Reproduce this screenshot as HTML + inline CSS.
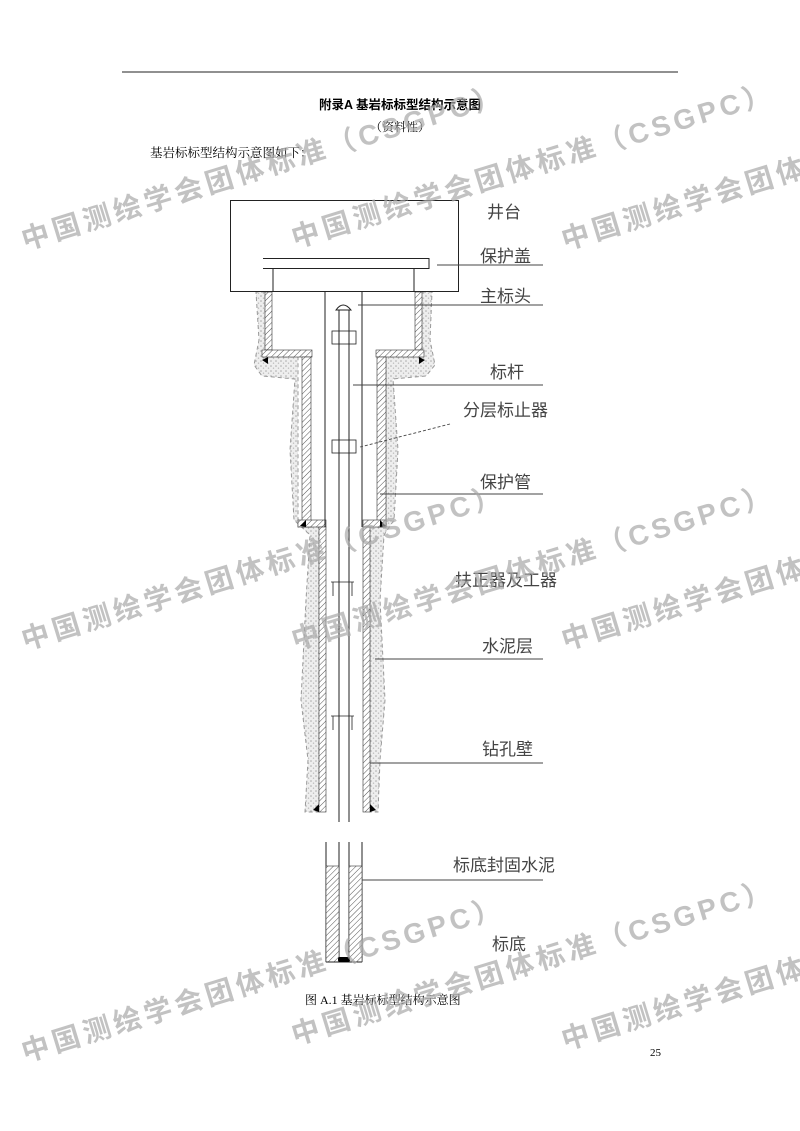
<!DOCTYPE html>
<html><head><meta charset="utf-8"><style>
html,body{margin:0;padding:0;background:#fff;}
svg{display:block;}
</style></head><body>
<svg width="800" height="1131" viewBox="0 0 800 1131" xmlns="http://www.w3.org/2000/svg" font-family="'Liberation Serif','Noto Serif CJK SC',serif">
<defs>
<pattern id="h" width="4" height="4" patternUnits="userSpaceOnUse" patternTransform="rotate(45)">
<rect width="4" height="4" fill="#fff"/><line x1="0" y1="0" x2="0" y2="4" stroke="#555" stroke-width="1"/></pattern>
<pattern id="d" width="5" height="5" patternUnits="userSpaceOnUse">
<rect width="5" height="5" fill="#eee"/><circle cx="1" cy="1" r="0.8" fill="#aaa"/><circle cx="3.5" cy="3.2" r="0.7" fill="#bbb"/></pattern>
</defs>
<line x1="122" y1="72" x2="678" y2="72" stroke="#222" stroke-width="1"/>
<text x="400" y="109" font-size="12.5" font-weight="bold" text-anchor="middle" font-family="'Liberation Sans','Noto Sans CJK SC',sans-serif">附录A  基岩标标型结构示意图</text>
<text x="400" y="131" font-size="12" text-anchor="middle">（资料性）</text>
<text x="150" y="157" font-size="12.5">基岩标标型结构示意图如下：</text>

<!-- cement (dotted) regions -->
<path d="M265,292 L256,292 L259,340 L254,365 L262,376 L295,379 L290,450 L294,520 L310,535 L306,600 L301,700 L308,760 L305,812 L319,812 L319,527 L298,527 L298,357 L262,357 L265,350 Z" fill="url(#d)" stroke="#999" stroke-dasharray="4,3"/>
<path d="M422,292 L432,292 L430,340 L435,365 L426,376 L393,379 L398,450 L394,520 L384,535 L380,600 L385,700 L380,760 L378,812 L370,812 L370,527 L386,527 L386,357 L424,357 L422,350 Z" fill="url(#d)" stroke="#999" stroke-dasharray="4,3"/>

<!-- well platform -->
<rect x="230.5" y="200.5" width="228" height="91" fill="#fff" stroke="#222"/>
<path d="M263,258.5 H429 V268.5 H263" fill="none" stroke="#222"/>
<line x1="273" y1="268" x2="273" y2="292" stroke="#222"/>
<line x1="414" y1="268" x2="414" y2="292" stroke="#222"/>

<!-- pipe walls -->
<rect x="265" y="292" width="7" height="58" fill="url(#h)" stroke="#333" stroke-width="0.6"/>
<rect x="415" y="292" width="7" height="58" fill="url(#h)" stroke="#333" stroke-width="0.6"/>
<rect x="262" y="350" width="50" height="7" fill="url(#h)" stroke="#333" stroke-width="0.6"/>
<rect x="376" y="350" width="48" height="7" fill="url(#h)" stroke="#333" stroke-width="0.6"/>
<rect x="302" y="357" width="9" height="170" fill="url(#h)" stroke="#333" stroke-width="0.6"/>
<rect x="377" y="357" width="9" height="170" fill="url(#h)" stroke="#333" stroke-width="0.6"/>
<rect x="298" y="520" width="28" height="7" fill="url(#h)" stroke="#333" stroke-width="0.6"/>
<rect x="363" y="520" width="23" height="7" fill="url(#h)" stroke="#333" stroke-width="0.6"/>
<rect x="319" y="527" width="7" height="285" fill="url(#h)" stroke="#333" stroke-width="0.6"/>
<rect x="363" y="527" width="7" height="285" fill="url(#h)" stroke="#333" stroke-width="0.6"/>
<polygon points="262,360 268,357 268,364" fill="#000"/>
<polygon points="425,360 419,357 419,364" fill="#000"/>
<polygon points="313,810 319,804 319,812" fill="#000"/>
<polygon points="376,810 370,804 370,812" fill="#000"/>
<polygon points="300,526 306,520 306,527" fill="#000"/>
<polygon points="386,526 380,520 380,527" fill="#000"/>

<!-- inner rods -->
<g stroke="#222" stroke-width="1">
<line x1="325" y1="292" x2="325" y2="527"/>
<line x1="362" y1="292" x2="362" y2="527"/>
<line x1="339" y1="310" x2="339" y2="822"/>
<line x1="349" y1="310" x2="349" y2="822"/>
</g>
<path d="M336,310 Q343,300 351,310 Z" fill="#fff" stroke="#222"/>
<g fill="none" stroke="#222" stroke-width="0.8">
<rect x="332" y="331" width="24" height="13"/>
<rect x="332" y="440" width="24" height="13"/>
<path d="M331,582 H354 M333,582 v14 M352,582 v14"/>
<path d="M331,716 H354 M333,716 v14 M352,716 v14"/>
</g>

<!-- bottom segment -->
<g stroke="#222" stroke-width="1">
<line x1="326" y1="842" x2="326" y2="962"/>
<line x1="362" y1="842" x2="362" y2="962"/>
<line x1="339" y1="842" x2="339" y2="960"/>
<line x1="349" y1="842" x2="349" y2="960"/>
</g>
<rect x="326" y="866" width="13" height="96" fill="url(#h)" stroke="#333" stroke-width="0.6"/>
<rect x="349" y="866" width="13" height="96" fill="url(#h)" stroke="#333" stroke-width="0.6"/>
<line x1="326" y1="962" x2="362" y2="962" stroke="#222"/>
<rect x="338" y="957" width="12" height="5" rx="2" fill="#000"/>

<!-- leaders -->
<g stroke="#444" stroke-width="0.9">
<line x1="437" y1="265" x2="543" y2="265"/>
<line x1="358" y1="305" x2="543" y2="305"/>
<line x1="353" y1="385" x2="543" y2="385"/>
<line x1="360" y1="447" x2="450" y2="424" stroke-dasharray="3,2"/>
<line x1="380" y1="494" x2="543" y2="494"/>
<line x1="375" y1="659" x2="543" y2="659"/>
<line x1="370" y1="763" x2="543" y2="763"/>
<line x1="362" y1="880" x2="543" y2="880"/>
</g>
<g font-size="17" fill="#444" font-family="'Liberation Sans','Noto Sans CJK SC',sans-serif">
<text x="487" y="218">井台</text>
<text x="480" y="262">保护盖</text>
<text x="480" y="302">主标头</text>
<text x="490" y="378">标杆</text>
<text x="463" y="416">分层标止器</text>
<text x="480" y="488">保护管</text>
<text x="455" y="586">扶正器及工器</text>
<text x="482" y="652">水泥层</text>
<text x="482" y="755">钻孔壁</text>
<text x="453" y="871">标底封固水泥</text>
<text x="492" y="950">标底</text>
</g>

<text x="305" y="1004" font-size="12">图 A.1  基岩标标型结构示意图</text>
<text x="650" y="1056" font-size="11">25</text>

<!-- watermarks -->
<g fill="#a8a8a8" fill-opacity="0.7" font-size="28" font-weight="bold" letter-spacing="4" font-family="'Liberation Sans','Noto Sans CJK SC',sans-serif">
<text transform="translate(25,250) rotate(-17)">中国测绘学会团体标准（CSGPC）</text>
<text transform="translate(295,248) rotate(-17)">中国测绘学会团体标准（CSGPC）</text>
<text transform="translate(565,250) rotate(-17)">中国测绘学会团体标准</text>
<text transform="translate(25,650) rotate(-17)">中国测绘学会团体标准（CSGPC）</text>
<text transform="translate(295,650) rotate(-17)">中国测绘学会团体标准（CSGPC）</text>
<text transform="translate(565,650) rotate(-17)">中国测绘学会团体标准</text>
<text transform="translate(25,1062) rotate(-17)">中国测绘学会团体标准（CSGPC）</text>
<text transform="translate(295,1045) rotate(-17)">中国测绘学会团体标准（CSGPC）</text>
<text transform="translate(565,1050) rotate(-17)">中国测绘学会团体标准</text>
</g>
</svg>
</body></html>
